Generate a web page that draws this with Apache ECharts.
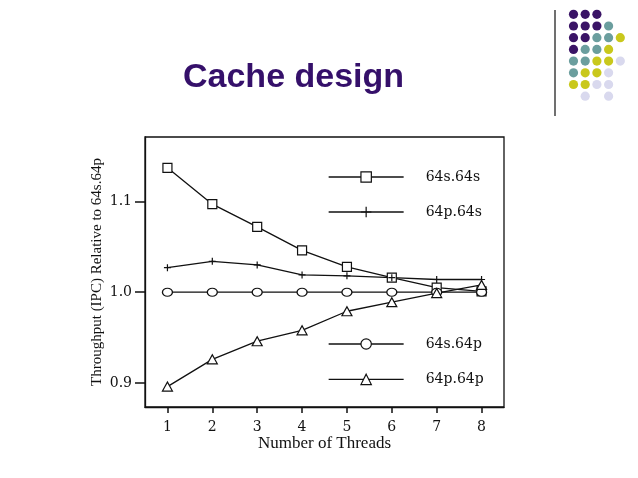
<!DOCTYPE html>
<html>
<head>
<meta charset="utf-8">
<script src="https://cdn.jsdelivr.net/npm/echarts@6/dist/echarts.min.js"></script>
<style>
  html, body { margin: 0; padding: 0; background: #fff; }
  #chart { width: 638px; height: 478px; }
</style>
</head>
<body>
<div id="chart"></div>
<script>
// data
const threads = [1, 2, 3, 4, 5, 6, 7, 8]
const s64s64 = [1.137, 1.097, 1.072, 1.046, 1.028, 1.016, 1.005, 1.001]
const p64s64 = [1.027, 1.034, 1.030, 1.019, 1.018, 1.016, 1.014, 1.014]
const s64p64 = [1.0, 1.0, 1.0, 1.0, 1.0, 1.0, 1.0, 1.0]
const p64p64 = [0.896, 0.926, 0.946, 0.958, 0.979, 0.989, 0.999, 1.008]
const yTicks = [0.9, 1.0, 1.1]

// decorative dot grid in the slide corner (P purple, T teal, Y yellow, L lavender)
const DOT_ROWS = ['PPP', 'PPPT', 'PPTTY', 'PTTY', 'TTYYL', 'TYYL', 'YYLL', '.L.L']
const DOT_COLORS = { P: '#3a1466', T: '#6b9e9e', Y: '#c9c81c', L: '#d9d9ee' }

const INK = '#111'
const SERIF = 'DejaVu Serif'

const dots = []
DOT_ROWS.forEach((row, r) => {
  row.split('').forEach((c, k) => {
    if (c === '.') return
    dots.push({ type: 'circle', shape: { cx: 573.5 + k * 11.7, cy: 14.3 + r * 11.7, r: 4.6 }, style: { fill: DOT_COLORS[c] } })
  })
})

const pairs = arr => arr.map((v, i) => [threads[i], v])

const mkSeries = (name, data, symbol, symbolSize) => ({
  name,
  type: 'line',
  data: pairs(data),
  symbol,
  symbolSize,
  showAllSymbol: true,
  lineStyle: { color: INK, width: 1.3 },
  itemStyle: { color: '#fff', borderColor: INK, borderWidth: 1.2 },
  emphasis: { disabled: true },
  z: 3,
})

const legendBase = {
  orient: 'vertical', left: 328, padding: 0,
  itemWidth: 75, itemHeight: 13,
  lineStyle: { width: 1.3, color: INK },
  itemStyle: { color: '#fff', borderColor: INK, borderWidth: 1.2 },
  textStyle: { fontFamily: SERIF, fontSize: 14, color: INK, padding: [0, 0, 0, 17] },
  selectedMode: false,
}

const chart = echarts.init(document.getElementById('chart'))
chart.setOption({
  animation: false,
  backgroundColor: '#fff',
  grid: { left: 145, right: 134, top: 137, bottom: 71, show: true, borderColor: INK, borderWidth: 1.3 },
  graphic: [
    { type: 'text', left: 183, top: 61, style: { text: 'Cache design', font: 'bold 34px "Liberation Sans", Arial, sans-serif', fill: '#35106a' } },
    { type: 'line', shape: { x1: 555, y1: 10, x2: 555, y2: 116 }, style: { stroke: '#707070', lineWidth: 2 } },
    ...dots,
  ],
  legend: [
    { ...legendBase, data: ['64s.64s', '64p.64s'], top: 170, itemGap: 21 },
    { ...legendBase, data: ['64s.64p', '64p.64p'], top: 337, itemGap: 21.4 },
  ],
  xAxis: {
    type: 'value',
    min: 0.5, max: 8.5,
    name: 'Number of Threads',
    nameLocation: 'middle',
    nameGap: 28,
    nameMoveOverlap: false,
    nameTextStyle: { fontFamily: 'Liberation Serif', fontSize: 17, color: INK },
    axisLine: { lineStyle: { color: INK, width: 1.3 } },
    axisTick: { customValues: threads, length: 6, lineStyle: { color: INK, width: 1.5 } },
    axisLabel: { customValues: threads, margin: 13, fontFamily: SERIF, fontSize: 14, color: INK },
    splitLine: { show: false },
  },
  yAxis: {
    type: 'value',
    min: 0.8735, max: 1.171,
    name: 'Throughput (IPC) Relative to 64s.64p',
    nameLocation: 'middle',
    nameGap: 40,
    nameMoveOverlap: false,
    nameTextStyle: { fontFamily: 'Liberation Serif', fontSize: 15, color: INK },
    axisLine: { lineStyle: { color: INK, width: 1.3 } },
    axisTick: { customValues: yTicks, length: 10, lineStyle: { color: INK, width: 1.5 } },
    axisLabel: { customValues: yTicks, margin: 13, fontFamily: SERIF, fontSize: 14, color: INK, formatter: v => v.toFixed(1) },
    splitLine: { show: false },
  },
  series: [
    mkSeries('64s.64s', s64s64, 'rect', 9),
    mkSeries('64p.64s', p64s64, 'path://M5,0L5,10M0,5L10,5', 7),
    mkSeries('64s.64p', s64p64, 'circle', [10, 8]),
    mkSeries('64p.64p', p64p64, 'triangle', [10, 9]),
  ],
})
</script>
</body>
</html>
